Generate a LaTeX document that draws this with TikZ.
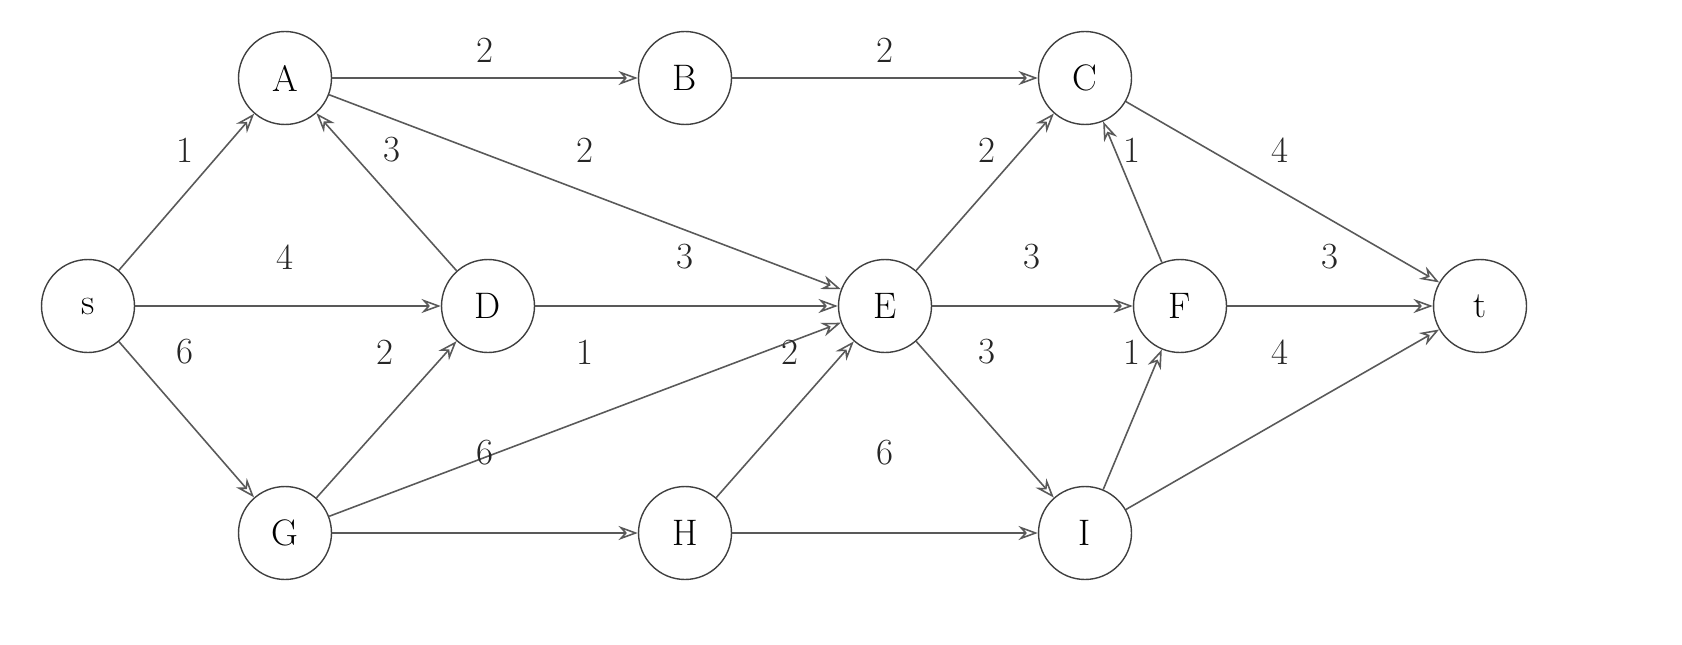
\documentclass[tikz,border=0pt]{standalone}
\usetikzlibrary{arrows.meta}
\begin{document}
\begin{tikzpicture}[x=0.02cm,y=-0.02cm,
  vtx/.style={circle,draw=black!75,line width=0.8pt,minimum size=1.86cm,inner sep=0pt,font=\fontsize{21}{24}\selectfont},
  arc/.style={draw=black!65,line width=0.9pt,-{Stealth[length=11pt,width=8pt,open]}},
  wt/.style={font=\fontsize{21}{24}\selectfont,text=black!85}]
\useasboundingbox (0,0) rectangle (1682,645);
\node[vtx] (s) at (88,306) {s};
\node[vtx] (A) at (285,78) {A};
\node[vtx] (B) at (685,78) {B};
\node[vtx] (C) at (1085,78) {C};
\node[vtx] (D) at (488,306) {D};
\node[vtx] (E) at (885,306) {E};
\node[vtx] (F) at (1180,306) {F};
\node[vtx] (t) at (1480,306) {t};
\node[vtx] (G) at (285,533) {G};
\node[vtx] (H) at (685,533) {H};
\node[vtx] (I) at (1085,533) {I};
\draw[arc] (s) -- (A); \node[wt] (w1) at (185,150) {1};
\draw[arc] (A) -- (B); \node[wt] (w2) at (485,50) {2};
\draw[arc] (B) -- (C); \node[wt] (w3) at (885,50) {2};
\draw[arc] (D) -- (A); \node[wt] (w4) at (392,150) {3};
\draw[arc] (A) -- (E); \node[wt] (w5) at (585,150) {2};
\draw[arc] (s) -- (D); \node[wt] (w6) at (285,257) {4};
\draw[arc] (D) -- (E); \node[wt] (w7) at (685,257) {3};
\draw[arc] (s) -- (G); \node[wt] (w8) at (185,352) {6};
\draw[arc] (G) -- (D); \node[wt] (w9) at (385,352) {2};
\draw[arc] (G) -- (E); \node[wt] (w10) at (585,352) {1};
\draw[arc] (G) -- (H); \node[wt] (w11) at (485,453) {6};
\draw[arc] (H) -- (E); \node[wt] (w12) at (790,352) {2};
\draw[arc] (H) -- (I); \node[wt] (w13) at (885,453) {6};
\draw[arc] (E) -- (C); \node[wt] (w14) at (987,150) {2};
\draw[arc] (E) -- (F); \node[wt] (w15) at (1032,257) {3};
\draw[arc] (E) -- (I); \node[wt] (w16) at (987,352) {3};
\draw[arc] (F) -- (C); \node[wt] (w17) at (1132,150) {1};
\draw[arc] (I) -- (F); \node[wt] (w18) at (1132,352) {1};
\draw[arc] (C) -- (t); \node[wt] (w19) at (1280,150) {4};
\draw[arc] (F) -- (t); \node[wt] (w20) at (1330,257) {3};
\draw[arc] (I) -- (t); \node[wt] (w21) at (1280,352) {4};
\end{tikzpicture}
\end{document}
